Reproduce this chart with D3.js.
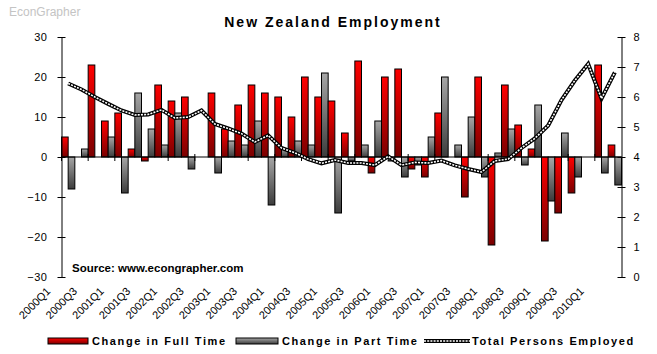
<!DOCTYPE html>
<html>
<head>
<meta charset="utf-8">
<script src="https://cdn.jsdelivr.net/npm/d3@7"></script>
<style>
  body { margin: 0; background: #fff; }
  svg { font-family: "Liberation Sans", Arial, sans-serif; }
</style>
</head>
<body>
<div id="chart"></div>
<script>
const quarters = [
  "2000Q1","2000Q2","2000Q3","2000Q4","2001Q1","2001Q2","2001Q3","2001Q4",
  "2002Q1","2002Q2","2002Q3","2002Q4","2003Q1","2003Q2","2003Q3","2003Q4",
  "2004Q1","2004Q2","2004Q3","2004Q4","2005Q1","2005Q2","2005Q3","2005Q4",
  "2006Q1","2006Q2","2006Q3","2006Q4","2007Q1","2007Q2","2007Q3","2007Q4",
  "2008Q1","2008Q2","2008Q3","2008Q4","2009Q1","2009Q2","2009Q3","2009Q4",
  "2010Q1","2010Q2"
];
const fullTime = [5,0,23,9,11,2,-1,18,14,15,0,16,7,13,18,16,15,10,20,15,14,6,
  24,-4,20,22,-3,-5,11,0,-10,20,-22,18,8,2,-21,-14,-9,0,23,3];
const partTime = [-8,2,0,5,-9,16,7,3,11,-3,0,-4,4,3,9,-12,2,4,3,21,-14,-1,
  3,9,-1,-5,-2,5,20,3,10,-5,1,7,-2,13,-11,6,-5,0,-4,-7];
const totalEmployed = [6.45,6.25,6.0,5.77,5.55,5.4,5.42,5.57,5.3,5.33,5.55,5.1,
  4.95,4.78,4.5,4.72,4.3,4.14,3.93,3.79,3.9,3.8,3.8,3.73,4.02,3.73,3.82,3.8,
  3.88,3.72,3.6,3.5,3.87,3.93,4.3,4.62,5.05,5.9,6.55,7.1,5.95,6.82];
const leftTicks = [-30,-20,-10,0,10,20,30];
const rightTicks = [0,1,2,3,4,5,6,7,8];
const seriesNames = ["Change in Full Time","Change in Part Time","Total Persons Employed"];

const W = 657, H = 354;
const plot = { left: 61.5, right: 621.5, top: 37, bottom: 277 };

const svg = d3.select("#chart").append("svg")
  .attr("width", W).attr("height", H);

const defs = svg.append("defs");
function grad(id, c1, c2) {
  const g = defs.append("linearGradient").attr("id", id)
    .attr("x1", 0).attr("y1", 0).attr("x2", 0).attr("y2", 1);
  g.append("stop").attr("offset", "0%").attr("stop-color", c1);
  g.append("stop").attr("offset", "100%").attr("stop-color", c2);
}
grad("gRed", "#ff0000", "#7a0000");
grad("gGray", "#a6a6a6", "#3c3c3c");

// watermark
svg.append("text").attr("x", 9).attr("y", 16)
  .attr("font-size", 12).attr("fill", "#c4c4c4").text("EconGrapher");

// title
svg.append("text").attr("x", 333).attr("y", 27)
  .attr("text-anchor", "middle").attr("font-size", 14).attr("font-weight", "bold")
  .attr("letter-spacing", 2).text("New Zealand Employment");

let x0 = d3.scaleBand().domain(quarters).range([plot.left, plot.right]).padding(0);
let x1 = d3.scaleBand().domain(["ft","pt"]).range([0, x0.bandwidth()]).padding(0);

let y = d3.scaleLinear().domain([-30, 30]).range([plot.bottom, plot.top]);
let y2 = d3.scaleLinear().domain([0, 8]).range([plot.bottom, plot.top]);

// bars
const barData = quarters.map((q, i) => ({ q, ft: fullTime[i], pt: partTime[i] }));
const groups = svg.append("g").selectAll("g").data(barData).enter()
  .append("g").attr("transform", d => "translate(" + x0(d.q) + ",0)");

groups.selectAll("rect")
  .data(d => [{ k: "ft", v: d.ft }, { k: "pt", v: d.pt }].filter(e => e.v !== 0))
  .enter().append("rect")
  .attr("x", d => x1(d.k))
  .attr("width", x1.bandwidth())
  .attr("y", d => y(Math.max(0, d.v)))
  .attr("height", d => Math.abs(y(d.v) - y(0)))
  .attr("fill", d => d.k === "ft" ? "url(#gRed)" : "url(#gGray)")
  .attr("stroke", "#000").attr("stroke-width", 1);

// left axis
let yAxisCall = d3.axisLeft(y).tickValues(leftTicks).tickSizeInner(4).tickSizeOuter(0).tickPadding(10);
let gl = svg.append("g").attr("transform", "translate(" + plot.left + ",0)").call(yAxisCall);
gl.selectAll(".tick line").attr("x2", 4).attr("x1", -4);

// right axis
let y2AxisCall = d3.axisRight(y2).tickValues(rightTicks).tickSizeInner(4).tickSizeOuter(0).tickPadding(8);
let gr = svg.append("g").attr("transform", "translate(" + plot.right + ",0)").call(y2AxisCall);
gr.selectAll(".tick line").attr("x1", -4).attr("x2", 4);

[gl, gr].forEach(g => {
  g.select(".domain").attr("stroke", "#000");
  g.selectAll("text").attr("font-size", 11).attr("font-family", "Liberation Sans, Arial, sans-serif")
    .attr("fill", "#000").attr("letter-spacing", 0.5);
});

// zero axis line with category ticks
const xg = svg.append("g");
xg.append("line").attr("x1", plot.left).attr("x2", plot.right)
  .attr("y1", y(0)).attr("y2", y(0)).attr("stroke", "#000");
const labelled = quarters.filter((q, i) => i % 2 === 0);
xg.selectAll("line.tk").data(labelled).enter().append("line")
  .attr("x1", d => x0(d)).attr("x2", d => x0(d))
  .attr("y1", y(0) - 3).attr("y2", y(0) + 4).attr("stroke", "#000");

// x labels at the bottom
svg.append("g").selectAll("text").data(labelled).enter().append("text")
  .attr("transform", d => "translate(" + (x0(d) + x0.bandwidth() / 2 - 17) + ",292) rotate(-45)")
  .attr("text-anchor", "end").attr("font-size", 11).text(d => d);

// total employed line
const lineData = quarters.map((q, i) => ({ q, v: totalEmployed[i] }));
const lineGen = d3.line().x(d => x0(d.q) + x0.bandwidth() / 2).y(d => y2(d.v));
svg.append("path").datum(lineData).attr("fill", "none")
  .attr("stroke", "#000").attr("stroke-width", 4).attr("d", lineGen);
svg.append("path").datum(lineData).attr("fill", "none")
  .attr("stroke", "#fff").attr("stroke-width", 1.6)
  .attr("stroke-dasharray", "2,1.2").attr("d", lineGen);

// source
svg.append("text").attr("x", 72).attr("y", 272)
  .attr("font-size", 11.5).attr("font-weight", "bold").text("Source: www.econgrapher.com");

// legend
const leg = svg.append("g");
const ly = 341;
leg.append("rect").attr("x", 48).attr("y", ly - 3).attr("width", 40).attr("height", 6)
  .attr("fill", "url(#gRed)").attr("stroke", "#000");
leg.append("text").attr("x", 92).attr("y", ly + 4).text(seriesNames[0]);
leg.append("rect").attr("x", 236).attr("y", ly - 3).attr("width", 42).attr("height", 6)
  .attr("fill", "url(#gGray)").attr("stroke", "#000");
leg.append("text").attr("x", 282).attr("y", ly + 4).text(seriesNames[1]);
leg.append("line").attr("x1", 424).attr("x2", 470).attr("y1", ly).attr("y2", ly)
  .attr("stroke", "#000").attr("stroke-width", 4);
leg.append("line").attr("x1", 424).attr("x2", 470).attr("y1", ly).attr("y2", ly)
  .attr("stroke", "#fff").attr("stroke-width", 1.6).attr("stroke-dasharray", "2,1.2");
leg.append("text").attr("x", 472).attr("y", ly + 4).text(seriesNames[2]);
leg.selectAll("text").attr("font-size", 11).attr("font-weight", "bold").attr("letter-spacing", 1.6);
</script>
</body>
</html>
